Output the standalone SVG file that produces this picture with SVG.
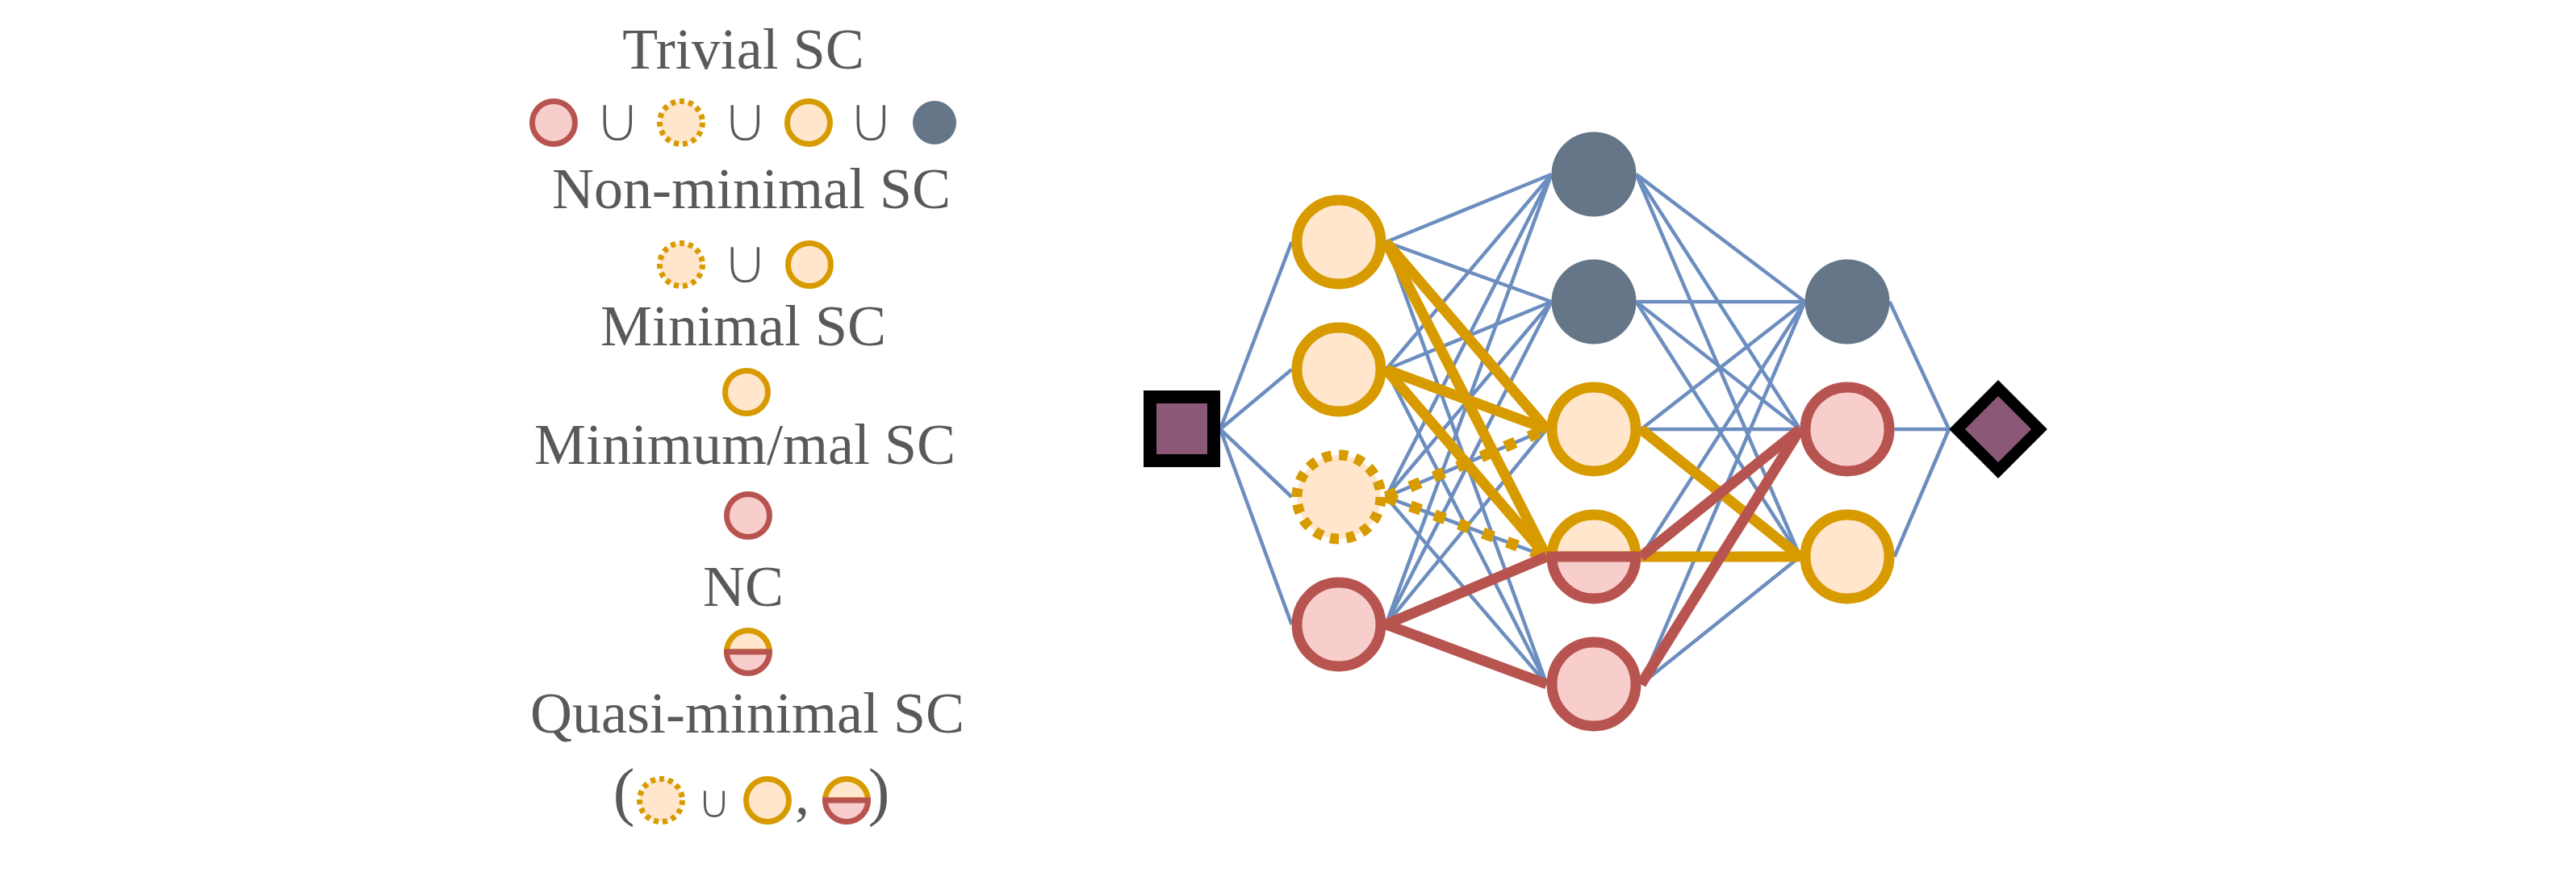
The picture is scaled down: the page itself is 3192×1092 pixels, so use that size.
<svg xmlns="http://www.w3.org/2000/svg" width="3192" height="1092" viewBox="0 0 3192 1092">
<style>
.t{font-family:"Liberation Serif","Times New Roman",serif;font-size:72px;fill:#595959;text-anchor:middle}
.cup{font-family:"DejaVu Sans",sans-serif;font-size:82px;fill:#595959;stroke:#ffffff;stroke-width:3.5;text-anchor:middle}
.cups{font-family:"DejaVu Sans",sans-serif;font-size:60px;fill:#595959;stroke:#ffffff;stroke-width:2.2;text-anchor:middle}
.y{fill:#FFE6CC;stroke:#D79B00;stroke-width:13}
.yd{fill:#FFE6CC;stroke:#D79B00;stroke-width:13;stroke-dasharray:11 9.4}
.r{fill:#F8CECC;stroke:#B85450;stroke-width:13}
.g{fill:#647687;stroke:none}
.ly{fill:#FFE6CC;stroke:#D79B00;stroke-width:7}
.lyd{fill:#FFE6CC;stroke:#D79B00;stroke-width:7;stroke-dasharray:6 5.1}
.lr{fill:#F8CECC;stroke:#B85450;stroke-width:7}
.thin line{stroke:#6C8EBF;stroke-width:4.5}
.ey{stroke:#D79B00;stroke-width:13}
.ed{stroke:#D79B00;stroke-width:14;stroke-dasharray:14 18}
.er{stroke:#B85450;stroke-width:13}
</style>
<rect width="3192" height="1092" fill="#ffffff"/>

<g id="legend">
  <text class="t" x="921" y="85">Trivial SC</text>
  <circle class="lr" cx="686" cy="152" r="26.5"/>
  <text class="cup" x="765" y="176">∪</text>
  <circle class="lyd" cx="844" cy="152" r="26.5"/>
  <text class="cup" x="923" y="176">∪</text>
  <circle class="ly" cx="1002" cy="152" r="26.5"/>
  <text class="cup" x="1079" y="176">∪</text>
  <circle class="g" cx="1158" cy="152" r="27"/>

  <text class="t" x="931" y="258">Non-minimal SC</text>
  <circle class="lyd" cx="844" cy="328" r="26.5"/>
  <text class="cup" x="923" y="352">∪</text>
  <circle class="ly" cx="1003" cy="328" r="26.5"/>

  <text class="t" x="921" y="428">Minimal SC</text>
  <circle class="ly" cx="925" cy="486" r="26.5"/>

  <text class="t" x="923" y="575">Minimum/mal SC</text>
  <circle class="lr" cx="927" cy="639" r="26.5"/>

  <text class="t" x="921" y="751">NC</text>
  <path class="ly" d="M900.5,808 A26.5,26.5 0 0 1 953.5,808 Z"/>
  <path class="lr" d="M900.5,808 A26.5,26.5 0 0 0 953.5,808 Z"/>

  <text class="t" x="926" y="908">Quasi-minimal SC</text>
  <text class="t" x="773" y="1008" style="font-size:80px">(</text>
  <circle class="lyd" cx="819" cy="992" r="26.5"/>
  <text class="cups" x="885" y="1014">∪</text>
  <circle class="ly" cx="951" cy="992" r="26.5"/>
  <text class="t" x="994" y="1008">,</text>
  <path class="ly" d="M1022.5,992 A26.5,26.5 0 0 1 1075.5,992 Z"/>
  <path class="lr" d="M1022.5,992 A26.5,26.5 0 0 0 1075.5,992 Z"/>
  <text class="t" x="1089" y="1008" style="font-size:80px">)</text>
</g>

<g id="connectors">
  <g class="thin">
    <line x1="1512" y1="532" x2="1600.5" y2="300"/>
    <line x1="1512" y1="532" x2="1600.5" y2="458"/>
    <line x1="1512" y1="532" x2="1600.5" y2="616"/>
    <line x1="1512" y1="532" x2="1600.5" y2="774"/>

    <line x1="1717.5" y1="300" x2="1922.5" y2="216"/>
    <line x1="1717.5" y1="300" x2="1922.5" y2="374"/>
    <line x1="1717.5" y1="300" x2="1916.5" y2="532"/>
    <line x1="1717.5" y1="300" x2="1916.5" y2="690"/>
    <line x1="1717.5" y1="300" x2="1916.5" y2="848"/>
    <line x1="1717.5" y1="458" x2="1922.5" y2="216"/>
    <line x1="1717.5" y1="458" x2="1922.5" y2="374"/>
    <line x1="1717.5" y1="458" x2="1916.5" y2="532"/>
    <line x1="1717.5" y1="458" x2="1916.5" y2="690"/>
    <line x1="1717.5" y1="458" x2="1916.5" y2="848"/>
    <line x1="1717.5" y1="616" x2="1922.5" y2="216"/>
    <line x1="1717.5" y1="616" x2="1922.5" y2="374"/>
    <line x1="1717.5" y1="616" x2="1916.5" y2="532"/>
    <line x1="1717.5" y1="616" x2="1916.5" y2="690"/>
    <line x1="1717.5" y1="616" x2="1916.5" y2="848"/>
    <line x1="1717.5" y1="774" x2="1922.5" y2="216"/>
    <line x1="1717.5" y1="774" x2="1922.5" y2="374"/>
    <line x1="1717.5" y1="774" x2="1916.5" y2="532"/>
    <line x1="1717.5" y1="774" x2="1916.5" y2="690"/>
    <line x1="1717.5" y1="774" x2="1916.5" y2="848"/>

    <line x1="2027.5" y1="216" x2="2236.5" y2="374"/>
    <line x1="2027.5" y1="216" x2="2230.5" y2="532"/>
    <line x1="2027.5" y1="216" x2="2230.5" y2="690"/>
    <line x1="2027.5" y1="374" x2="2236.5" y2="374"/>
    <line x1="2027.5" y1="374" x2="2230.5" y2="532"/>
    <line x1="2027.5" y1="374" x2="2230.5" y2="690"/>
    <line x1="2033.5" y1="532" x2="2236.5" y2="374"/>
    <line x1="2033.5" y1="532" x2="2230.5" y2="532"/>
    <line x1="2033.5" y1="532" x2="2230.5" y2="690"/>
    <line x1="2033.5" y1="690" x2="2236.5" y2="374"/>
    <line x1="2033.5" y1="690" x2="2230.5" y2="532"/>
    <line x1="2033.5" y1="690" x2="2230.5" y2="690"/>
    <line x1="2033.5" y1="848" x2="2236.5" y2="374"/>
    <line x1="2033.5" y1="848" x2="2230.5" y2="532"/>
    <line x1="2033.5" y1="848" x2="2230.5" y2="690"/>

    <line x1="2341.5" y1="374" x2="2415" y2="532"/>
    <line x1="2347.5" y1="532" x2="2415" y2="532"/>
    <line x1="2347.5" y1="690" x2="2415" y2="532"/>
  </g>
  <line class="ed" x1="1717.5" y1="616" x2="1916.5" y2="532"/>
  <line class="ed" x1="1717.5" y1="616" x2="1916.5" y2="690"/>
  <line class="ey" x1="1717.5" y1="300" x2="1916.5" y2="532"/>
  <line class="ey" x1="1717.5" y1="300" x2="1916.5" y2="690"/>
  <line class="ey" x1="1717.5" y1="458" x2="1916.5" y2="532"/>
  <line class="ey" x1="1717.5" y1="458" x2="1916.5" y2="690"/>
  <line class="ey" x1="2033.5" y1="532" x2="2230.5" y2="690"/>
  <line class="ey" x1="2033.5" y1="690" x2="2230.5" y2="690"/>
  <line class="er" x1="1717.5" y1="774" x2="1916.5" y2="690"/>
  <line class="er" x1="1717.5" y1="774" x2="1916.5" y2="848"/>
  <line class="er" x1="2033.5" y1="690" x2="2230.5" y2="532"/>
  <line class="er" x1="2033.5" y1="848" x2="2230.5" y2="532"/>
</g>

<g id="input"><rect x="1425" y="492" width="79" height="79" fill="#8B5878" stroke="#000000" stroke-width="16"/></g>

<g id="l1n1"><circle class="y" cx="1659" cy="300" r="52"/></g>
<g id="l1n2"><circle class="y" cx="1659" cy="458" r="52"/></g>
<g id="l1n3"><circle class="yd" cx="1659" cy="616" r="52"/></g>
<g id="l1n4"><circle class="r" cx="1659" cy="774" r="52"/></g>

<g id="l2n1"><circle class="g" cx="1975" cy="216" r="52.5"/></g>
<g id="l2n2"><circle class="g" cx="1975" cy="374" r="52.5"/></g>
<g id="l2n3"><circle class="y" cx="1975" cy="532" r="52"/></g>
<g id="l2n4">
  <path class="y" d="M1923,690 A52,52 0 0 1 2027,690 Z"/>
  <path class="r" d="M1923,690 A52,52 0 0 0 2027,690 Z"/>
</g>
<g id="l2n5"><circle class="r" cx="1975" cy="848" r="52"/></g>

<g id="l3n1"><circle class="g" cx="2289" cy="374" r="52.5"/></g>
<g id="l3n2"><circle class="r" cx="2289" cy="532" r="52"/></g>
<g id="l3n3"><circle class="y" cx="2289" cy="690" r="52"/></g>

<g id="output"><path d="M2476,481 L2527,532 L2476,583 L2425,532 Z" fill="#8B5878" stroke="#000000" stroke-width="14"/></g>
</svg>
